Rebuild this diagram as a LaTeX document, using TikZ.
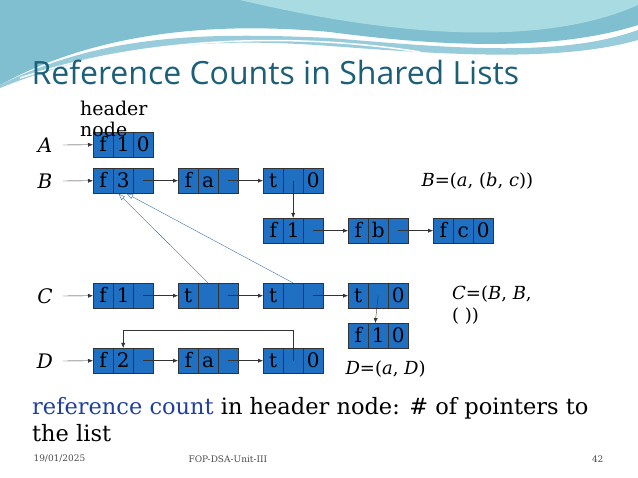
\documentclass[tikz,border=0pt]{standalone}
\usepackage{fontspec}
\setmainfont{DejaVu Serif}
\newfontfamily\titlefont{Open Sans}
\usetikzlibrary{arrows.meta}
\definecolor{cellblue}{HTML}{1F6FC2}
\definecolor{titleteal}{HTML}{1B5F78}
\definecolor{wave1}{HTML}{7FBFD0}
\definecolor{wave2}{HTML}{A8DCE2}
\definecolor{refblue}{HTML}{2040A0}
\tikzset{
  cell/.style={draw=black!80, fill=cellblue, minimum width=20pt, minimum height=25pt, inner sep=0pt, text height=14pt, text depth=1pt, font=\fontsize{20}{20}\selectfont, anchor=north west},
  lbl/.style={font=\itshape\fontsize{20}{20}\selectfont},
  ptr/.style={-{Latex[length=5pt,width=4pt]}, black!80, thin},
  bptr/.style={-{Latex[length=7pt,width=5pt,open]}, cellblue!70!gray, thin},
}
\newcommand{\lnode}[6]{%
  \node[cell] (#1a) at (#2,#3) {#4};
  \node[cell] (#1b) at (#2+20,#3) {#5};
  \node[cell] (#1c) at (#2+40,#3) {#6};}
\begin{document}
\begin{tikzpicture}[x=1pt,y=-1pt]
\useasboundingbox (0,0) rectangle (638,478);
\fill[white] (0,0) rectangle (638,478);
% waves
\fill[wave1] (0,0) -- (638,0) -- (638,25) .. controls (560,50) and (450,48) .. (330,32) .. controls (220,22) and (100,30) .. (0,85) -- cycle;
\fill[wave2] (240,0) -- (638,0) -- (638,5) .. controls (560,40) and (430,45) .. (240,0) -- cycle;
\fill[wave1!80] (0,85) .. controls (100,35) and (200,32) .. (330,38) .. controls (450,48) and (560,58) .. (638,30) -- (638,40) .. controls (560,62) and (450,55) .. (330,46) .. controls (200,36) and (100,48) .. (0,88) -- cycle;
\draw[white, line width=1.5pt] (20,78) .. controls (150,35) and (300,33) .. (420,52);
\node[anchor=west, text=titleteal, font=\titlefont\fontsize{32}{32}\selectfont] (title) at (28,72) {Reference Counts in Shared Lists};
% lists
\lnode{A}{93}{132}{f}{1}{0}
\lnode{Ba}{93}{168}{f}{3}{}
\lnode{Bb}{178}{168}{f}{a}{}
\lnode{Bc}{263}{168}{t}{}{0}
\lnode{Ea}{263}{218}{f}{1}{}
\lnode{Eb}{348}{218}{f}{b}{}
\lnode{Ec}{433}{218}{f}{c}{0}
\lnode{Ca}{93}{283}{f}{1}{}
\lnode{Cb}{178}{283}{t}{}{}
\lnode{Cc}{263}{283}{t}{}{}
\lnode{Cd}{348}{283}{t}{}{0}
\lnode{F}{348}{323}{f}{1}{0}
\lnode{Da}{93}{348}{f}{2}{}
\lnode{Db}{178}{348}{f}{a}{}
\lnode{Dc}{263}{348}{t}{}{0}
\node[font=\fontsize{19}{21}\selectfont, align=left, anchor=north west, inner sep=0pt] (hdr) at (80,101) {header\\node};
% labels
\node[lbl] (lA) at (45,145) {A};
\node[lbl] (lB) at (45,181) {B};
\node[lbl] (lC) at (45,296) {C};
\node[lbl] (lD) at (45,361) {D};
\coordinate (sA) at (63,145);\coordinate (sB) at (63,181);\coordinate (sC) at (63,296);\coordinate (sD) at (63,361);
\draw[ptr] (sA) -- (Aa.west);
\draw[ptr] (sB) -- (Baa.west);
\draw[ptr] (sC) -- (Caa.west);
\draw[ptr] (sD) -- (Daa.west);
\draw[ptr] (Bac.center) -- (Bba.west);
\draw[ptr] (Bbc.center) -- (Bca.west);
\draw[ptr] (Bcb.center) -- (Eab.north);
\draw[ptr] (Eac.center) -- (Eba.west);
\draw[ptr] (Ebc.center) -- (Eca.west);
\draw[ptr] (Cac.center) -- (Cba.west);
\draw[ptr] (Cbc.center) -- (Cca.west);
\draw[ptr] (Ccc.center) -- (Cda.west);
\draw[ptr] (Cdb.center) -- ([xshift=-3pt]Fb.north);
\draw[ptr] (Dac.center) -- (Dba.west);
\draw[ptr] (Dbc.center) -- (Dca.west);
\draw[ptr] (Dcb.center) -- (Dcb.center |- 0,330) -| (Dab.north);
\draw[bptr] (Cbb.north) -- ([xshift=-5pt]Bab.south);
\draw[bptr] (Ccb.north) -- ([xshift=3pt]Bab.south);
% expressions
\node[anchor=west, font=\fontsize{18}{18}\selectfont] (eB) at (418,181) {\textit{B}=(\textit{a}, (\textit{b}, \textit{c}))};
\node[anchor=north west, align=left, font=\fontsize{18}{22}\selectfont, inner sep=0pt] (eC) at (452,286) {\textit{C}=(\textit{B}, \textit{B},\\( ))};
\node[anchor=west, font=\fontsize{18}{18}\selectfont] (eD) at (342,369) {\textit{D}=(\textit{a}, \textit{D})};
\node[anchor=north west, align=left, font=\fontsize{22.5}{27}\selectfont, inner sep=0pt] (note) at (32,397) {\textcolor{refblue}{reference count} in header node: \# of  pointers to\\the list};
% footer
\node[anchor=west, font=\fontsize{9}{9}\selectfont, text=black!70] (f1) at (30,459) {19/01/2025};
\node[anchor=west, font=\fontsize{9}{9}\selectfont, text=black!70] (f2) at (185,459) {FOP-DSA-Unit-III};
\node[anchor=east, font=\fontsize{9}{9}\selectfont, text=black!70] (f3) at (607,459) {42};
\end{tikzpicture}
\end{document}
